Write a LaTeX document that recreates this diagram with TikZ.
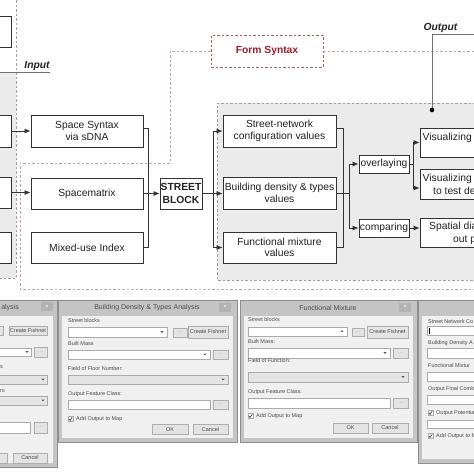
\documentclass[tikz,border=0pt]{standalone}
\usepackage{fontspec}
\setmainfont{Liberation Sans}
\usetikzlibrary{arrows.meta}
\definecolor{boxc}{HTML}{333333}
\definecolor{txtc}{HTML}{222222}
\definecolor{grayfill}{HTML}{EBEBEB}
\definecolor{graydash}{HTML}{A0A0A0}
\definecolor{pinkdash}{HTML}{C8A0A0}
\definecolor{formred}{HTML}{9E1C2C}
\definecolor{formdash}{HTML}{A86060}
\definecolor{framec}{HTML}{C4C4C4}
\definecolor{framed}{HTML}{8E8E8E}
\definecolor{clientc}{HTML}{F0F0F0}
\definecolor{ctld}{HTML}{ABABAB}
\definecolor{disc}{HTML}{E4E4E4}
\definecolor{btnc}{HTML}{E3E3E3}
\definecolor{btnd}{HTML}{ADADAD}
\definecolor{dlgtxt}{HTML}{4A4A4A}
\definecolor{linegray}{HTML}{707070}
\begin{document}
\begin{tikzpicture}[x=1pt,y=-1pt,
 box/.style={draw=boxc, fill=white, line width=0.8pt, align=center, inner sep=0pt, text=txtc, font=\fontsize{10.3}{11.6}\selectfont},
 vtxt/.style={anchor=west, inner sep=0pt, text=txtc, font=\fontsize{10.3}{11.6}\selectfont},
 ln/.style={draw=boxc, line width=0.7pt},
 arr/.style={draw=boxc, line width=0.7pt, -{Latex[length=6pt,width=5pt]}},
 gdash/.style={draw=graydash, line width=0.7pt, dash pattern=on 2.5pt off 2pt},
 pdash/.style={draw=pinkdash, line width=0.7pt, dash pattern=on 2.5pt off 2pt},
 lbl/.style={inner sep=0pt, font=\fontsize{10.3}{12}\selectfont\bfseries\itshape, text=txtc},
 frm/.style={fill=framec, draw=framed, line width=0.6pt},
 ctl/.style={fill=white, draw=ctld, line width=0.5pt},
 dis/.style={fill=disc, draw=ctld, line width=0.5pt},
 btn/.style={fill=btnc, draw=btnd, line width=0.5pt, inner sep=0pt, text=dlgtxt, font=\fontsize{5.5}{6}\selectfont},
 dlab/.style={anchor=west, inner sep=0pt, text=dlgtxt, font=\fontsize{5.5}{6}\selectfont},
 ttl/.style={inner sep=0pt, text=black!70, font=\fontsize{7}{8}\selectfont},
 cls/.style={fill=black!30, inner sep=0pt, minimum width=12pt, minimum height=9pt, text=white, font=\fontsize{6}{6}\selectfont},
 ddarrow/.pic={\fill[black!65] (-1.6,-0.9) -- (1.6,-0.9) -- (0,0.9) -- cycle;},
 chk/.pic={\draw[ctld, fill=white, line width=0.4pt] (0,-2.5) rectangle (5,2.5);
           \draw[black!80, line width=0.6pt] (1,0) -- (2.1,1.5) -- (4.2,-1.8);}
]
\useasboundingbox (0,0) rectangle (474,474);
\clip (0,0) rectangle (474,474);
\fill[white] (0,0) rectangle (474,474);

% ---------- left input region ----------
\fill[grayfill] (0,72) rectangle (16,278);
\draw[gdash] (16,0) -- (16,278) -- (0,278);
\draw[linegray, line width=0.8pt] (0,72) -- (50,72);
\node[lbl] (inlab) at (37,66) {Input};
\node[box, minimum width=31pt, minimum height=31pt] (L0) at (-4.5,31.5) {};
\node[box, minimum width=31pt, minimum height=32pt] (L1) at (-4.5,131) {};
\node[box, minimum width=31pt, minimum height=31pt] (L2) at (-4.5,192.5) {};
\node[box, minimum width=31pt, minimum height=31pt] (L3) at (-4.5,247.5) {};

% ---------- output gray region ----------
\fill[grayfill] (217,103) rectangle (480,280);
\draw[gdash] (480,103) -- (217,103) -- (217,280) -- (480,280);

% ---------- form syntax region ----------
\node[draw=formdash, dash pattern=on 2.5pt off 2pt, line width=0.8pt, fill=white,
      minimum width=112pt, minimum height=32pt, inner sep=0pt, text=formred,
      font=\fontsize{10.3}{12}\selectfont\bfseries] (fs) at (267,51) {Form Syntax};
\coordinate (fsA) at (170,51);
\coordinate (fsB) at (170,163);
\coordinate (fsC) at (20,163);
\coordinate (fsD) at (20,289);
\coordinate (fsE) at (480,289);
\coordinate (fsF) at (480,51);
\draw[pdash] (fs.west) -- (fsA) -- (fsB) -- (fsC) -- (fsD) -- (fsE);
\draw[pdash] (fs.east) -- (fsF);

% ---------- output label ----------
\node[lbl] (outlab) at (440.5,28) {Output};
\coordinate (oc1) at (480,34);
\coordinate (oc2) at (432,34);
\coordinate (odot) at (432,110);
\draw[linegray, line width=0.8pt] (oc1) -- (oc2) -- (odot);
\fill[black] (odot) circle (2.3pt);

% ---------- main boxes ----------
\node[box, minimum width=112pt, minimum height=32pt] (ss) at (87,131) {Space Syntax\\via sDNA};
\node[box, minimum width=112pt, minimum height=31pt] (sm) at (87,193.5) {Spacematrix};
\node[box, minimum width=112pt, minimum height=31pt] (mu) at (87,247.5) {Mixed-use Index};
\node[box, minimum width=42pt, minimum height=31pt, font=\fontsize{10.3}{12.5}\selectfont\bfseries] (sb) at (181,193.5) {STREET\\BLOCK};
\node[box, minimum width=113pt, minimum height=32pt] (sn) at (279.5,131) {Street-network\\configuration values};
\node[box, minimum width=113pt, minimum height=32pt] (bd) at (279.5,193) {Building density \& types\\values};
\node[box, minimum width=113pt, minimum height=31pt] (fm) at (279.5,247.5) {Functional mixture\\values};
\node[box, minimum width=50pt, minimum height=18pt] (ov) at (384,164) {overlaying};
\node[box, minimum width=50pt, minimum height=18pt] (cp) at (384,228) {comparing};
\node[box, minimum width=100pt, minimum height=29pt] (v1) at (470,142.5) {};
\node[box, minimum width=100pt, minimum height=30pt] (v2) at (470,184) {};
\node[box, minimum width=100pt, minimum height=29pt] (v3) at (470,232.5) {};
\node[vtxt] (v1a) at (422.5,137.5) {Visualizing};
\node[vtxt] (v2a) at (422.5,179) {Visualizing};
\node[vtxt] (v2b) at (433,191) {to test de};
\node[vtxt] (v3a) at (429,227) {Spatial dia};
\node[vtxt] (v3b) at (453,240) {out p};

% ---------- connectors ----------
\draw[arr] (L1.east) -- (ss.west);
\draw[arr] (L2.east) -- (L2.east -| sm.west);
\coordinate (busL) at (148,0);
\draw[ln] ([yshift=3pt]ss.east) -| (busL |- mu.east) -- (mu.east);
\draw[arr] (sm.east) -- (sb.west);
\draw[arr] (sb.east) -- (sb.east -| bd.west);
\coordinate (busM) at (213,0);
\draw[ln] (busM |- sn.west) -- (busM |- fm.west);
\draw[arr] (busM |- sn.west) -- (sn.west);
\draw[arr] (busM |- fm.west) -- (fm.west);
\coordinate (busR) at (343,0);
\draw[ln] ([yshift=3pt]sn.east) -| (busR |- fm.east) -- (fm.east);
\coordinate (busS) at (349,0);
\draw[ln] (bd.east) -- (busS |- bd.east);
\draw[ln] (busS |- ov.west) -- (busS |- cp.west);
\draw[arr] (busS |- ov.west) -- (ov.west);
\draw[arr] (busS |- cp.west) -- (cp.west);
\coordinate (busV) at (413,0);
\draw[ln] (ov.east) -- (busV |- ov.east);
\draw[ln] (busV |- v1.west) -- (busV |- 0,188);
\draw[arr] (busV |- v1.west) -- (v1.west);
\draw[arr] (busV |- 0,188) -- (v2.west |- 0,188);
\draw[arr] (cp.east) -- (cp.east -| v3.west);

% ---------- window 1 (partial) ----------
\draw[frm] (-10,300) rectangle (57,467);
\fill[clientc] (-10,316) rectangle (53,463);
\node[ttl, anchor=east] (w1t) at (19,307.5) {alysis};
\node[cls] (w1x) at (47,306.5) {×};
\node[btn, minimum width=13pt, minimum height=9pt] (w1b0) at (-3.5,330.5) {};
\node[btn, minimum width=38pt, minimum height=9pt] (w1b1) at (28,330.5) {Create Fishnet};
\draw[ctl] (-10,348) rectangle (31,356); \pic at (27,352) {ddarrow};
\node[btn, minimum width=13pt, minimum height=10pt, text=black!35] (w1b2) at (40.5,352) {...};
\node[dlab] (w1l1) at (0,367) {s};
\draw[dis] (-10,375) rectangle (47,384); \pic at (43,379.5) {ddarrow};
\node[dlab] (w1l2) at (0,391) {rs};
\draw[dis] (-10,396) rectangle (47,405); \pic at (43,400.5) {ddarrow};
\draw[ctl] (-10,422) rectangle (30,433);
\node[btn, minimum width=13pt, minimum height=11pt, text=black!35] (w1b3) at (40.5,427.5) {...};
\node[btn, minimum width=27pt, minimum height=10pt] (w1b4) at (-6.5,458) {};
\node[btn, minimum width=34pt, minimum height=10pt] (w1b5) at (30,458) {Cancel};

% ---------- window 2 ----------
\draw[frm] (58,300) rectangle (237,442);
\fill[clientc] (62,316) rectangle (233,438);
\node[ttl] (w2t) at (147,308) {Building Density \& Types Analysis};
\node[cls] (w2x) at (225,307) {×};
\node[dlab] (w2l1) at (68,321) {Street blocks};
\draw[ctl] (68,327) rectangle (167,337); \pic at (162,332) {ddarrow};
\node[btn, minimum width=14pt, minimum height=9pt, text=black!35] (w2b1) at (180,332.5) {...};
\node[btn, minimum width=40pt, minimum height=12pt] (w2b2) at (208,332) {Create Fishnet};
\node[dlab] (w2l2) at (68,344) {Built Mass};
\draw[ctl] (68,350) rectangle (210,359); \pic at (205,354.5) {ddarrow};
\node[btn, minimum width=15pt, minimum height=9pt, text=black!35] (w2b3) at (220.5,354.5) {...};
\node[dlab] (w2l3) at (68,369) {Field of Floor Number:};
\draw[dis] (68,375) rectangle (228,384); \pic at (223,379.5) {ddarrow};
\node[dlab] (w2l4) at (68,394) {Output Feature Class:};
\draw[ctl] (68,400) rectangle (210,409);
\node[btn, minimum width=15pt, minimum height=9pt, text=black!35] (w2b4) at (220.5,404.5) {...};
\pic at (68,419) {chk};
\node[dlab] (w2l5) at (76,419) {Add Output to Map};
\node[btn, minimum width=36pt, minimum height=10pt] (w2ok) at (170,429.5) {OK};
\node[btn, minimum width=35pt, minimum height=10pt] (w2cn) at (210.5,429.5) {Cancel};

% ---------- window 3 ----------
\draw[frm] (240,300) rectangle (417,442);
\fill[clientc] (244,316) rectangle (413,438);
\node[ttl] (w3t) at (328,308) {Functional Mixture};
\node[cls] (w3x) at (405,307) {×};
\node[dlab] (w3l1) at (248,320) {Street blocks};
\draw[ctl] (248,327) rectangle (347,336); \pic at (342,331.5) {ddarrow};
\node[btn, minimum width=12pt, minimum height=8pt, text=black!35] (w3b1) at (358,332) {...};
\node[btn, minimum width=41pt, minimum height=12pt] (w3b2) at (387.5,332) {Create Fishnet};
\node[dlab] (w3l2) at (248,342) {Built Mass:};
\draw[ctl] (248,348) rectangle (390,358); \pic at (385,353) {ddarrow};
\node[btn, minimum width=15pt, minimum height=10pt, text=black!35] (w3b3) at (400.5,353) {...};
\node[dlab] (w3l3) at (248,361) {Field of Function:};
\draw[dis] (248,372) rectangle (408,382); \pic at (403,377) {ddarrow};
\node[dlab] (w3l4) at (248,392) {Output Feature Class:};
\draw[ctl] (248,398) rectangle (390,408);
\node[btn, minimum width=15pt, minimum height=10pt, text=black!35] (w3b4) at (400.5,403) {...};
\pic at (248,416) {chk};
\node[dlab] (w3l5) at (256,416) {Add Output to Map};
\node[btn, minimum width=35pt, minimum height=10pt] (w3ok) at (350.5,428) {OK};
\node[btn, minimum width=36pt, minimum height=10pt] (w3cn) at (390,428) {Cancel};

% ---------- window 4 (partial) ----------
\draw[frm] (418,300) rectangle (500,463);
\fill[clientc] (422,316) rectangle (496,459);
\node[dlab] (w4l1) at (428,321.5) {Street Network Co};
\draw[ctl] (427,326) rectangle (480,335);
\draw[black, line width=0.5pt] (429.5,327.5) -- (429.5,333.5);
\node[dlab] (w4l2) at (428,343) {Building Density A};
\draw[ctl] (427,348) rectangle (480,358);
\node[dlab] (w4l3) at (428,366) {Functional Mixtur};
\draw[ctl] (427,372) rectangle (480,381);
\node[dlab] (w4l4) at (428,389) {Output Final Comb};
\draw[ctl] (427,395) rectangle (480,404);
\pic at (428,413) {chk};
\node[dlab] (w4l5) at (436,413) {Output Potentia};
\draw[ctl] (427,420) rectangle (480,428);
\pic at (428,436) {chk};
\node[dlab] (w4l6) at (436,436) {Add Output to M};
\end{tikzpicture}
\end{document}
